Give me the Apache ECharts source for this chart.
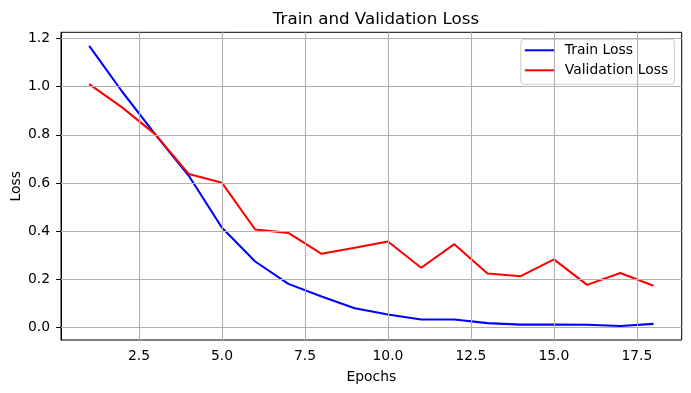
<!DOCTYPE html>
<html>
<head>
<meta charset="utf-8">
<script src="https://cdn.jsdelivr.net/npm/echarts@6/dist/echarts.min.js"></script>
<style>
html,body{margin:0;padding:0;background:#fff;}
#chart{width:691px;height:393px;}
</style>
</head>
<body>
<div id="chart"></div>
<script>
const epochs = [1,2,3,4,5,6,7,8,9,10,11,12,13,14,15,16,17,18];
const trainLoss = [1.170,0.978,0.800,0.630,0.414,0.274,0.181,0.129,0.080,0.054,0.033,0.033,0.018,0.012,0.012,0.011,0.006,0.015];
const valLoss = [1.011,0.913,0.801,0.637,0.601,0.407,0.393,0.306,0.331,0.357,0.248,0.346,0.224,0.213,0.283,0.177,0.226,0.173];
const xTicks = [2.5,5.0,7.5,10.0,12.5,15.0,17.5];
const yTicks = [0.0,0.2,0.4,0.6,0.8,1.0,1.2];

const font = 'DejaVu Sans';
const chart = echarts.init(document.getElementById('chart'), null, {renderer:'canvas'});
const pair = (xs, ys) => xs.map((x,i)=>[x, ys[i]]);
const gridLines = xTicks.map(v => ({xAxis: v})).concat(yTicks.map(v => ({yAxis: v})));

chart.setOption({
  animation: false,
  backgroundColor: '#fff',
  title: {
    text: 'Train and Validation Loss',
    left: 371, top: 6, textAlign: 'center',
    textStyle: {fontFamily: font, fontSize: 16.7, fontWeight: 'normal', color: '#000'}
  },
  grid: {left: 61, right: 9.3, top: 32.3, bottom: 53, containLabel: false, outerBoundsMode: 'none',
    show: true, borderColor: '#000', borderWidth: 1, backgroundColor: 'transparent', z: 5},
  legend: {
    orient: 'vertical', right: 16.7, top: 39.3,
    data: ['Train Loss', 'Validation Loss'],
    icon: 'rect', itemWidth: 30, itemHeight: 2, itemGap: 6,
    padding: [4, 6, 7, 4],
    backgroundColor: 'rgba(255,255,255,0.8)', borderColor: '#cccccc', borderWidth: 1, borderRadius: 3,
    textStyle: {fontFamily: font, fontSize: 13.9, color: '#000', lineHeight: 14, padding: [0,0,0,5]}
  },
  xAxis: {
    type: 'value', min: 0.15, max: 18.85,
    name: 'Epochs', nameLocation: 'middle', nameGap: 30, nameMoveOverlap: false,
    nameTextStyle: {fontFamily: font, fontSize: 13.9, color: '#000'},
    axisLine: {show: true, lineStyle: {color: '#000', width: 1}},
    axisTick: {show: true, customValues: xTicks, length: 4.9, lineStyle: {color: '#000', width: 1}},
    axisLabel: {customValues: xTicks, margin: 9, fontFamily: font, fontSize: 13.9, color: '#000',
      formatter: v => Number(v).toFixed(1)},
    splitLine: {show: false}
  },
  yAxis: {
    type: 'value', min: -0.052, max: 1.226,
    name: 'Loss', nameLocation: 'middle', nameGap: 38, nameMoveOverlap: false,
    nameTextStyle: {fontFamily: font, fontSize: 13.9, color: '#000'},
    axisLine: {show: true, lineStyle: {color: '#000', width: 1}},
    axisTick: {show: true, customValues: yTicks, length: 4.9, lineStyle: {color: '#000', width: 1}},
    axisLabel: {customValues: yTicks, margin: 11, fontFamily: font, fontSize: 13.9, color: '#000',
      formatter: v => Number(v).toFixed(1)},
    splitLine: {show: false}
  },
  series: [
    {name: 'grid', type: 'line', data: [], z: 1, silent: true,
     markLine: {silent: true, symbol: 'none', label: {show: false}, animation: false,
       lineStyle: {color: '#b0b0b0', width: 1.1, type: 'solid'}, data: gridLines}},
    {name: 'Train Loss', type: 'line', data: pair(epochs, trainLoss), symbol: 'none',
     lineStyle: {color: '#0000ff', width: 2.08}, itemStyle: {color: '#0000ff'}, z: 3},
    {name: 'Validation Loss', type: 'line', data: pair(epochs, valLoss), symbol: 'none',
     lineStyle: {color: '#ff0000', width: 2.08}, itemStyle: {color: '#ff0000'}, z: 4}
  ]
});
</script>
</body>
</html>
